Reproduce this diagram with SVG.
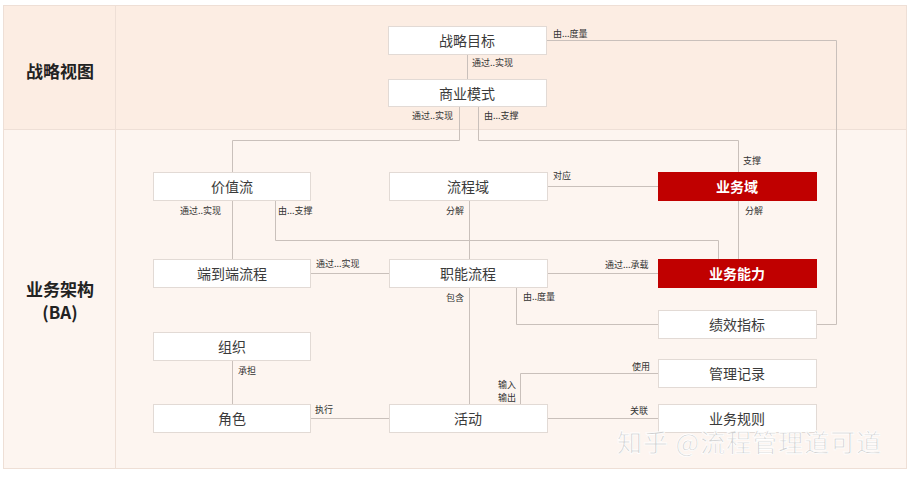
<svg xmlns="http://www.w3.org/2000/svg" width="913" height="478" viewBox="0 0 913 478">
<style>
.node rect{fill:#fff;stroke:#e2dad5;stroke-width:1}
.node text{font-family:"Noto Sans CJK SC","Noto Sans",sans-serif;font-size:14px;fill:#3a3a3a;text-anchor:middle;dominant-baseline:central}
.red rect{fill:#c00000;stroke:#c00000}
.red text{fill:#fff;font-weight:bold}
.conn path{fill:none;stroke:#c9c0bb;stroke-width:1}
.lbl{font-family:"Noto Sans CJK SC","Noto Sans",sans-serif;font-size:9px;fill:#333}
.band{font-family:"Noto Sans CJK SC","Noto Sans",sans-serif;font-weight:bold;fill:#222;text-anchor:middle}
</style>
<rect x="0" y="0" width="913" height="478" fill="#fff"/>
<rect x="3.5" y="5.5" width="903" height="124" fill="#fcede3" stroke="#eedfd6"/>
<rect x="3.5" y="129.5" width="903" height="339" fill="#fdf5f0" stroke="#eedfd6"/>
<line x1="115.5" y1="5.5" x2="115.5" y2="468.5" stroke="#eedfd6"/>
<text class="band" x="60" y="78" font-size="17">战略视图</text>
<text class="band" x="60" y="296" font-size="17">业务架构</text>
<text class="band" x="60" y="319" font-size="17">(BA)</text>

<g class="conn">
<path d="M546 40.5H836.5V324.5H816"/>
<path d="M467.5 54V79"/>
<path d="M459.5 106V140.5H232.5V172"/>
<path d="M478.5 106V140.5H738.5V172"/>
<path d="M232.5 200V259"/>
<path d="M275.5 200V240.5H718.5V259"/>
<path d="M469.5 200V259"/>
<path d="M547 186.5H658"/>
<path d="M738.5 200V259"/>
<path d="M310 273.5H389"/>
<path d="M547 273.5H658"/>
<path d="M516.5 287V324.5H658"/>
<path d="M469.5 287V404"/>
<path d="M232.5 360V404"/>
<path d="M310 418.5H389"/>
<path d="M520.5 404V373.5H658"/>
<path d="M547 418.5H658"/>
</g>

<g id="n-zlmb" class="node"><rect x="388.5" y="26.5" width="158" height="28"/><text x="467" y="40">战略目标</text></g>
<g id="n-sybs" class="node"><rect x="388.5" y="79.5" width="158" height="27"/><text x="467" y="93">商业模式</text></g>
<g id="n-jzl" class="node"><rect x="153.5" y="172.5" width="157" height="28"/><text x="232" y="186">价值流</text></g>
<g id="n-lcy" class="node"><rect x="389.5" y="172.5" width="158" height="28"/><text x="468" y="186">流程域</text></g>
<g id="n-ywy" class="node red"><rect x="658.5" y="172.5" width="158" height="28"/><text x="737" y="186">业务域</text></g>
<g id="n-ddd" class="node"><rect x="153.5" y="259.5" width="157" height="28"/><text x="232" y="273">端到端流程</text></g>
<g id="n-znlc" class="node"><rect x="389.5" y="259.5" width="158" height="28"/><text x="468" y="273">职能流程</text></g>
<g id="n-ywnl" class="node red"><rect x="658.5" y="259.5" width="158" height="28"/><text x="737" y="273">业务能力</text></g>
<g id="n-jxzb" class="node"><rect x="658.5" y="310.5" width="158" height="28"/><text x="737" y="324">绩效指标</text></g>
<g id="n-zz" class="node"><rect x="153.5" y="332.5" width="157" height="28"/><text x="232" y="346">组织</text></g>
<g id="n-gljl" class="node"><rect x="658.5" y="359.5" width="158" height="28"/><text x="737" y="373">管理记录</text></g>
<g id="n-js" class="node"><rect x="153.5" y="404.5" width="157" height="28"/><text x="232" y="418">角色</text></g>
<g id="n-hd" class="node"><rect x="389.5" y="404.5" width="158" height="28"/><text x="468" y="418">活动</text></g>
<g id="n-ywgz" class="node"><rect x="658.5" y="404.5" width="158" height="28"/><text x="737" y="418">业务规则</text></g>

<g id="labels">
<text class="lbl" x="553" y="37">由...度量</text>
<text class="lbl" x="472" y="66">通过..实现</text>
<text class="lbl" x="412" y="119">通过..实现</text>
<text class="lbl" x="484" y="119">由...支撑</text>
<text class="lbl" x="743" y="164">支撑</text>
<text class="lbl" x="180" y="214">通过..实现</text>
<text class="lbl" x="278" y="214">由...支撑</text>
<text class="lbl" x="446" y="214">分解</text>
<text class="lbl" x="553" y="179">对应</text>
<text class="lbl" x="745" y="214">分解</text>
<text class="lbl" x="316" y="267">通过...实现</text>
<text class="lbl" x="605" y="268">通过...承载</text>
<text class="lbl" x="523" y="300">由..度量</text>
<text class="lbl" x="446" y="301">包含</text>
<text class="lbl" x="238" y="374">承担</text>
<text class="lbl" x="315" y="413">执行</text>
<text class="lbl" x="498" y="388">输入</text>
<text class="lbl" x="498" y="401">输出</text>
<text class="lbl" x="632" y="370">使用</text>
<text class="lbl" x="630" y="414">关联</text>
</g>
<text x="617" y="452" font-family="Noto Sans CJK SC,sans-serif" font-size="25" fill="#cfcfcf" stroke="#fff" stroke-width="0.8" letter-spacing="1">知乎 @流程管理道可道</text>
</svg>
